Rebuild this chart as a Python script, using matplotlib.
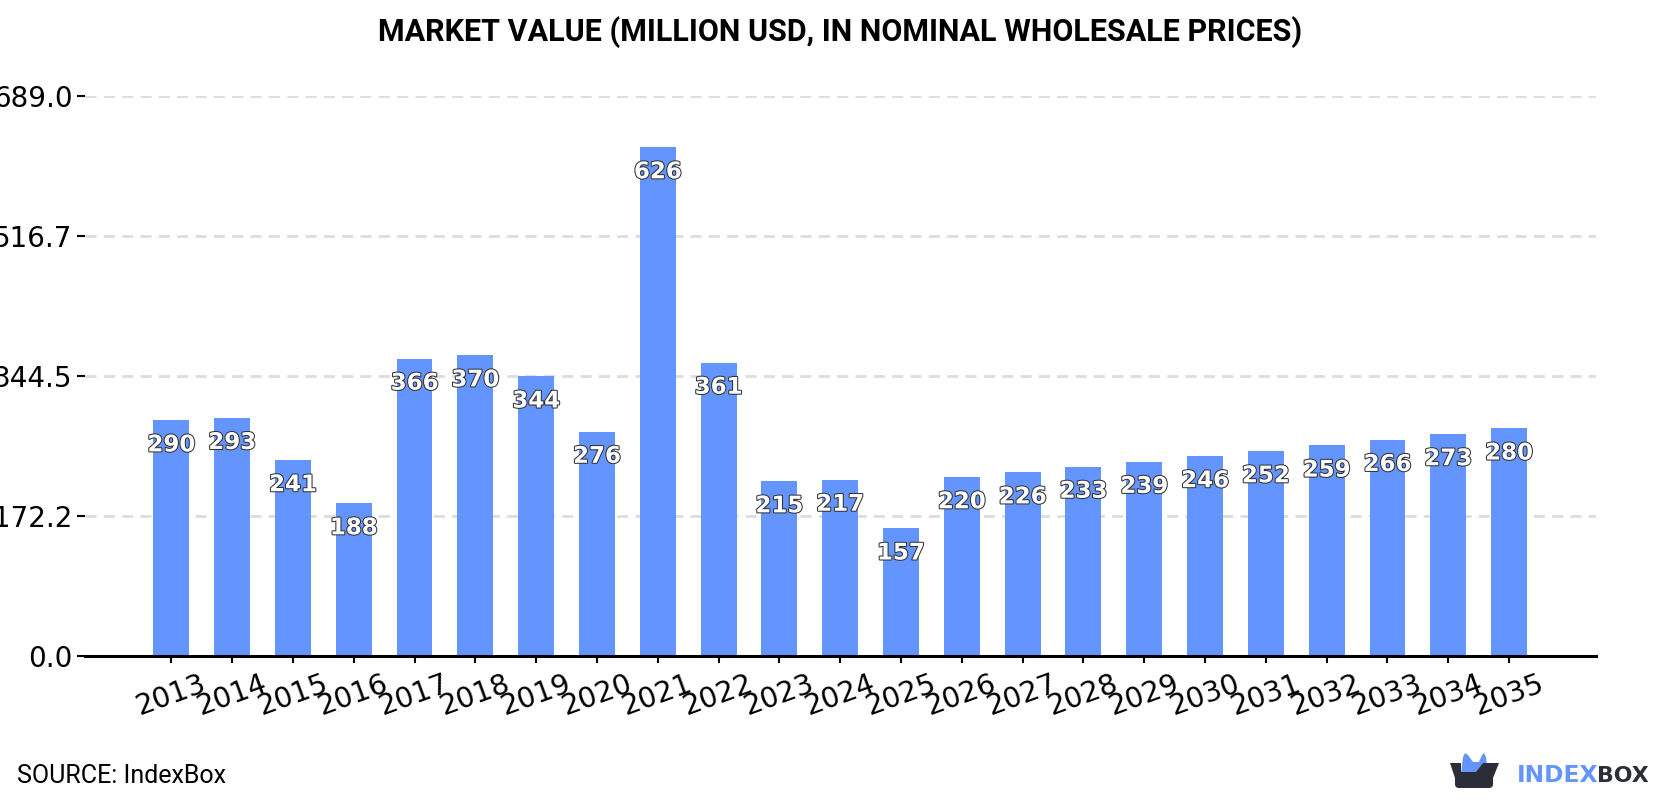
import matplotlib
matplotlib.use("Agg")
import matplotlib.pyplot as plt
import matplotlib.patheffects as pe
from matplotlib.patches import Polygon, FancyBboxPatch

years = [2013, 2014, 2015, 2016, 2017, 2018, 2019, 2020, 2021, 2022, 2023, 2024,
         2025, 2026, 2027, 2028, 2029, 2030, 2031, 2032, 2033, 2034, 2035]
values = [290, 293, 241, 188, 366, 370, 344, 276, 626, 361, 215, 217,
          157, 220, 226, 233, 239, 246, 252, 259, 266, 273, 280]
yticks = [0.0, 172.2, 344.5, 516.7, 689.0]

BLUE = "#6495ff"
DARK = "#2b2d38"

fig = plt.figure(figsize=(16.8, 8), dpi=100)
ax = fig.add_axes([85 / 1680, 1 - 656 / 800, (1596 - 85) / 1680, (656 - 96) / 800])

x = list(range(len(years)))
ax.bar(x, values, width=0.59, color=BLUE, zorder=2)

ax.set_xlim(-1.42, 23.43)
ax.set_ylim(0, 689)
ax.set_xticks(x)
ax.set_xticklabels(years, rotation=20, fontsize=20.5)
ax.set_yticks(yticks)
ax.set_yticklabels(["%.1f" % t for t in yticks], fontsize=20)
ax.tick_params(axis="x", length=5, width=1.5, pad=5)
ax.tick_params(axis="y", length=6, width=1.5, pad=3)
ax.grid(axis="y", color="#dddddd", ls=(0, (4, 2.6)), lw=2, zorder=1)
for s in ["top", "left", "right"]:
    ax.spines[s].set_visible(False)
ax.spines["bottom"].set_linewidth(2.2)

# value labels sit just under the top of each bar
for i, v in enumerate(values):
    ax.annotate(str(v), (i, v), xytext=(0, -26), textcoords="offset points",
                ha="center", va="bottom", fontsize=16.5, fontweight="bold", color="white",
                path_effects=[pe.withStroke(linewidth=1.5, foreground="#333333")], zorder=3)

fig.text(0.5, 1 - 32 / 800, "MARKET VALUE (MILLION USD, IN NOMINAL WHOLESALE PRICES)",
         ha="center", va="center", family="Roboto", fontweight="bold", fontsize=22, color="black")
fig.text(17 / 1680, 1 - 776 / 800, "SOURCE: IndexBox", ha="left", va="center",
         family="Roboto", fontsize=18, color="black")

# logo: box with blue ears, then the wordmark
logo = fig.add_axes([0, 0, 1, 1], facecolor="none")
logo.set_xlim(0, 1680)
logo.set_ylim(800, 0)
logo.axis("off")
logo.add_patch(Polygon([(1461, 773), (1463, 757), (1465, 753), (1468, 755), (1473, 762),
                        (1479, 762), (1482, 755), (1484, 753), (1486, 757), (1488, 773)],
                       color=BLUE, lw=0))
logo.add_patch(FancyBboxPatch((1455, 772), 38, 16, boxstyle="round,pad=0,rounding_size=4",
                              color=DARK, lw=0))
logo.add_patch(Polygon([(1450, 763), (1461, 763), (1461, 772), (1476, 772), (1483, 763),
                        (1499, 763), (1493, 778), (1455, 778)],
                       color=DARK, lw=0))
logo.text(1517, 776, "INDEX", ha="left", va="center", family="DejaVu Sans",
          fontweight="bold", fontsize=16.8, color=BLUE)
logo.text(1597, 776, "BOX", ha="left", va="center", family="DejaVu Sans",
          fontweight="bold", fontsize=15.8, color=DARK)

fig.savefig("out.png", dpi=100)
